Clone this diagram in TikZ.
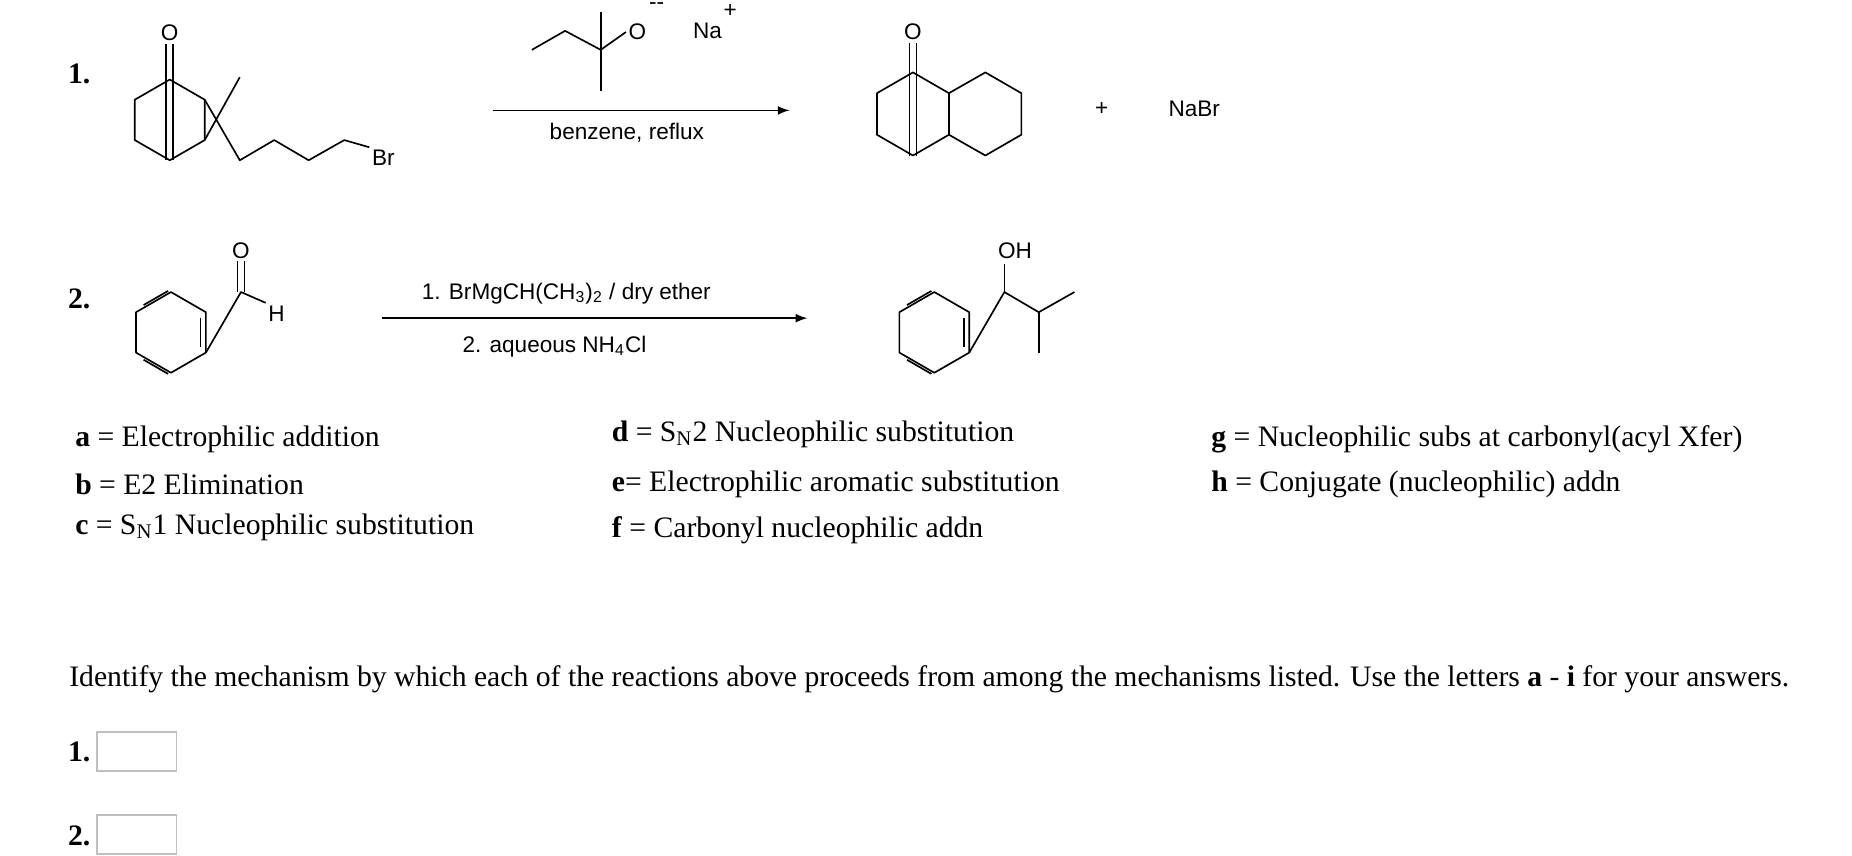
\documentclass[tikz,border=0pt]{standalone}
\usepackage{fontspec}
\setmainfont{Liberation Serif}
\newfontfamily\chemfont{Liberation Sans}
\usetikzlibrary{arrows, positioning, calc}

\tikzset{
  bond/.style={line width=0.7pt, line join=round},
  atom/.style={font=\chemfont\fontsize{9.5}{11}\selectfont, inner sep=1pt},
  txt/.style={anchor=west, font=\fontsize{12.5}{15}\selectfont, inner sep=0pt},
  num/.style={anchor=west, font=\bfseries\fontsize{12.5}{15}\selectfont, inner sep=0pt},
  rxn/.style={line width=0.7pt, -latex},
  ansbox/.style={draw=black!25, line width=0.6pt, minimum width=33.5pt, minimum height=16.5pt, inner sep=0pt}
}

\begin{document}
\begin{tikzpicture}[x=0.5pt, y=-0.5pt]
\useasboundingbox (0,0) rectangle (1560,721);

% reaction 1
\node[num] (n1) at (57,62) {1.};
\foreach \i/\a in {1/90,2/30,3/-30,4/-90,5/-150,6/150}
  \coordinate (k\i) at ($(143,101)+(\a:34)$);
\draw[bond] (k1)--(k2)--(k3)--(k4)--(k5)--(k6)--cycle;
\node[atom] (o1) at (143,28) {O};
\draw[bond] ([xshift=-1.5pt]k1) -- ([xshift=-1.5pt]o1.south);
\draw[bond] ([xshift=1.5pt]k1) -- ([xshift=1.5pt]o1.south);
\draw[bond] (k2) -- (202,65);
\node[atom] (br) at (323,133) {Br};
\draw[bond] (k3) -- (202,135) -- (231,118) -- (260,135) -- (290,118) -- (br.north west);

\node[atom] (ox) at (537,27) {O};
\node[atom] (na) at (596,26) {Na};
\node[atom] at (553,5) {--};
\node[atom] at (615,9) {+};
\draw[bond] (448,42) -- (476,26) -- (506,42) -- (ox.west);
\draw[bond] (506,10) -- (506,77);

\coordinate (a1s) at (415,93);
\coordinate (a1e) at (665,93);
\draw[rxn] (a1s) -- (a1e);
\node[atom] (cond1) at (528,112) {benzene, reflux};

\foreach \i/\a in {1/90,2/30,3/-30,4/-90,5/-150,6/150}
  \coordinate (l\i) at ($(769,96)+(\a:35)$);
\foreach \i/\a in {1/90,2/30,3/-30,4/-90,5/-150,6/150}
  \coordinate (r\i) at ($(830,96)+(\a:35)$);
\draw[bond] (l1)--(l2)--(l3)--(l4)--(l5)--(l6)--cycle;
\draw[bond] (l2)--(r1)--(r2)--(r3)--(r4)--(l3);
\draw[bond] (l2) -- ++(0,-35);
\node[atom] (o2) at (769,27) {O};
\draw[bond] ([xshift=-1.5pt]l1) -- ([xshift=-1.5pt]o2.south);
\draw[bond] ([xshift=1.5pt]l1) -- ([xshift=1.5pt]o2.south);
\node[atom] (plus) at (928,92) {+};
\node[atom] (nabr) at (1006,92) {NaBr};

% reaction 2
\node[num] (n2) at (57,252) {2.};
\foreach \i/\a in {1/90,2/30,3/-30,4/-90,5/-150,6/150}
  \coordinate (b\i) at ($(144,280)+(\a:34)$);
\draw[bond] (b1)--(b2)--(b3)--(b4)--(b5)--(b6)--cycle;
\draw[bond] ($(b2)!0.15!(b3)+(-4.5,0)$) -- ($(b3)!0.15!(b2)+(-4.5,0)$);
\draw[bond] ($(b4)!0.15!(b5)+(2,-3.5)$) -- ($(b5)!0.15!(b4)+(2,-3.5)$);
\draw[bond] ($(b6)!0.15!(b1)+(2,3.5)$) -- ($(b1)!0.15!(b6)+(2,3.5)$);
\coordinate (cho) at (203,246);
\node[atom] (o3) at (203,211) {O};
\node[atom] (h3) at (233,264) {H};
\draw[bond] (b2) -- (cho) -- (h3.north west);
\draw[bond] ([xshift=-1.5pt]cho) -- ([xshift=-1.5pt]o3.south);
\draw[bond] ([xshift=1.5pt]cho) -- ([xshift=1.5pt]o3.south);

\coordinate (a2s) at (322,268);
\coordinate (a2e) at (680,268);
\draw[rxn] (a2s) -- (a2e);
\node[atom] (cond2) at (477,247) {1. BrMgCH(CH\textsubscript{3})\textsubscript{2} / dry ether};
\node[atom] (cond3) at (467,292) {2. aqueous NH\textsubscript{4}Cl};

\foreach \i/\a in {1/90,2/30,3/-30,4/-90,5/-150,6/150}
  \coordinate (p\i) at ($(787,280)+(\a:34)$);
\draw[bond] (p1)--(p2)--(p3)--(p4)--(p5)--(p6)--cycle;
\draw[bond] ($(p2)!0.15!(p3)+(-4.5,0)$) -- ($(p3)!0.15!(p2)+(-4.5,0)$);
\draw[bond] ($(p4)!0.15!(p5)+(2,-3.5)$) -- ($(p5)!0.15!(p4)+(2,-3.5)$);
\draw[bond] ($(p6)!0.15!(p1)+(2,3.5)$) -- ($(p1)!0.15!(p6)+(2,3.5)$);
\coordinate (coh) at (846,246);
\node[atom] (oh) at (855,211) {OH};
\draw[bond] (p2) -- (coh) -- (875,263) -- (905,246);
\draw[bond] (875,263) -- (875,297);
\draw[bond] (coh) -- (846,222);

% mechanisms
\node[txt] (ma) at (63,370) {\textbf{a} = Electrophilic addition};
\node[txt] (mb) at (63,408) {\textbf{b} = E2 Elimination};
\node[txt] (mc) at (63,444) {\textbf{c} = S\textsubscript{N}1 Nucleophilic substitution};
\node[txt] (md) at (515,366) {\textbf{d} = S\textsubscript{N}2 Nucleophilic substitution};
\node[txt] (me) at (515,408) {\textbf{e}= Electrophilic aromatic substitution};
\node[txt] (mf) at (515,447) {\textbf{f} = Carbonyl nucleophilic addn};
\node[txt] (mg) at (1020,370) {\textbf{g} = Nucleophilic subs at carbonyl(acyl Xfer)};
\node[txt] (mh) at (1020,408) {\textbf{h} = Conjugate (nucleophilic) addn};

\node[txt] (q) at (58,572) {Identify the mechanism by which each of the reactions above proceeds from among the mechanisms listed. Use the letters \textbf{a} - \textbf{i} for your answers.};
\node[num] (q1) at (57,633) {1.};
\node[ansbox, anchor=west] (box1) at (81,633) {};
\node[num] (q2) at (57,704) {2.};
\node[ansbox, anchor=west] (box2) at (81,703) {};
\end{tikzpicture}
\end{document}
